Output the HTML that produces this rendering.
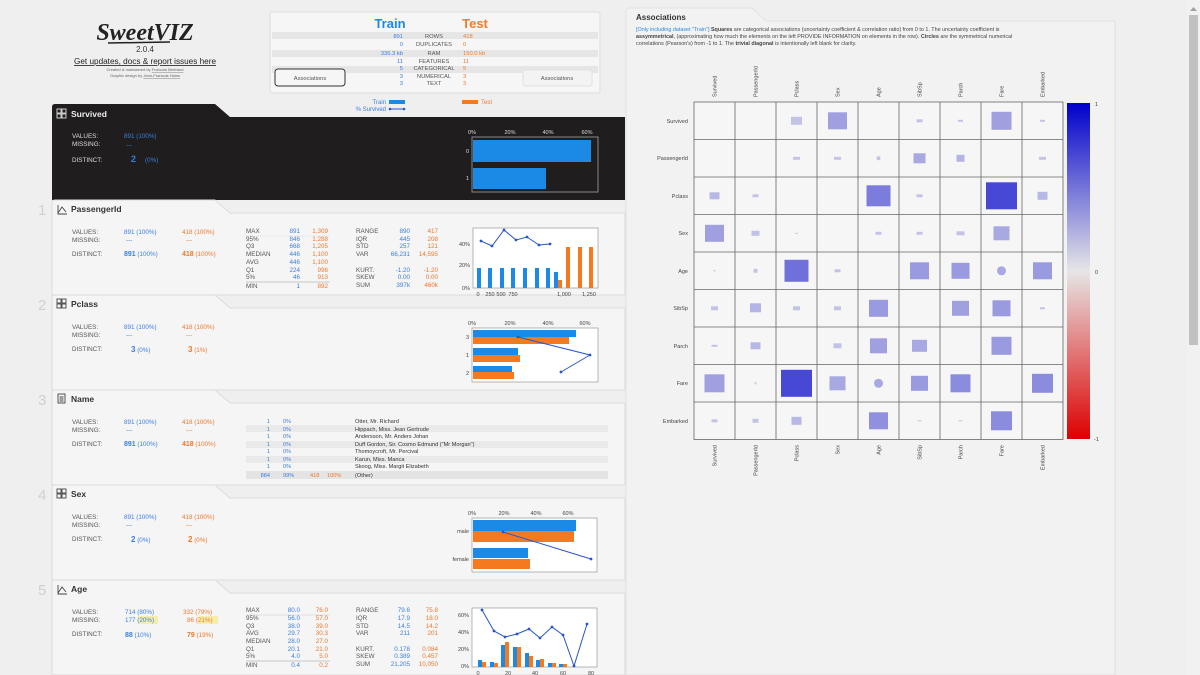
<!DOCTYPE html>
<html><head><meta charset="utf-8"><style>
html,body{margin:0;padding:0;background:#efefef;}
svg{display:block;font-family:"Liberation Sans",sans-serif;}
.s{font-size:6.3px;fill:#555;}
.b{font-size:6.3px;fill:#3a7fe0;}
.o{font-size:6.3px;fill:#f0782c;}
.h{font-size:8.5px;font-weight:bold;fill:#333;}
.n{font-size:15px;fill:#d0d0d0;}
</style></head><body>
<svg width="1200" height="675" viewBox="0 0 1200 675">
<rect width="1200" height="675" fill="#efefef"/>
<!-- header -->
<text x="145" y="40" font-size="24" font-style="italic" font-weight="bold" fill="#222" text-anchor="middle" font-family="Liberation Serif,serif">SweetVIZ</text>
<line x1="108" y1="43" x2="170" y2="42" stroke="#222" stroke-width="1.5"/>
<text x="145" y="52" font-size="8" fill="#333" text-anchor="middle">2.0.4</text>
<text x="145" y="64" font-size="8.2" fill="#222" text-anchor="middle" text-decoration="underline">Get updates, docs &amp; report issues here</text>
<text x="145" y="71" font-size="4" fill="#666" text-anchor="middle">Created &amp; maintained by <tspan text-decoration="underline">Francois Bertrand</tspan></text>
<text x="145" y="77" font-size="4" fill="#666" text-anchor="middle">Graphic design by <tspan text-decoration="underline">Jean-Francois Hains</tspan></text>
<!-- summary -->
<rect x="270" y="12" width="330" height="81" fill="#f6f6f6" stroke="#dcdcdc" rx="2"/>
<text x="390" y="28" font-size="13" font-weight="bold" fill="#1c87e6" text-anchor="middle">Train</text>
<text x="475" y="28" font-size="13" font-weight="bold" fill="#f27b25" text-anchor="middle">Test</text>
<rect x="272" y="32" width="326" height="7" fill="#e6e6e6"/>
<rect x="272" y="50" width="326" height="7" fill="#e6e6e6"/>
<rect x="272" y="66" width="326" height="7" fill="#e6e6e6"/>
<g font-size="5.8">
<g text-anchor="end" fill="#3a7fe0"><text x="403" y="38">891</text><text x="403" y="46">0</text><text x="403" y="55">336.3 kb</text><text x="403" y="63">11</text><text x="403" y="70">5</text><text x="403" y="78">3</text><text x="403" y="85">3</text></g>
<g text-anchor="middle" fill="#555"><text x="434" y="38">ROWS</text><text x="434" y="46">DUPLICATES</text><text x="434" y="55">RAM</text><text x="434" y="63">FEATURES</text><text x="434" y="70">CATEGORICAL</text><text x="434" y="78">NUMERICAL</text><text x="434" y="85">TEXT</text></g>
<g fill="#f0782c"><text x="463" y="38">418</text><text x="463" y="46">0</text><text x="463" y="55">150.0 kb</text><text x="463" y="63">11</text><text x="463" y="70">5</text><text x="463" y="78">3</text><text x="463" y="85">3</text></g>
</g>
<rect x="275" y="69" width="70" height="17" rx="3" fill="#f6f6f6" stroke="#333" stroke-width="1"/>
<text x="310" y="80" font-size="5.8" fill="#555" text-anchor="middle">Associations</text>
<rect x="523" y="70" width="69" height="16" rx="2" fill="#f3f3f3" stroke="#e0e0e0"/>
<text x="557" y="80" font-size="5.8" fill="#555" text-anchor="middle">Associations</text>
<text x="386" y="104" font-size="6" fill="#3a7fe0" text-anchor="end">Train</text>
<rect x="389" y="100" width="16" height="4" fill="#1a8ae6"/>
<text x="386" y="111" font-size="6" fill="#3a7fe0" text-anchor="end">% Survived</text>
<line x1="389" y1="109" x2="405" y2="109" stroke="#2a55c8"/><circle cx="390" cy="109" r="1.3" fill="#2a55c8"/><circle cx="404" cy="109" r="1.3" fill="#2a55c8"/>
<rect x="462" y="100" width="16" height="4" fill="#f57a1f"/>
<text x="481" y="104" font-size="6" fill="#f0782c">Test</text>

<!-- Survived dark card -->
<path d="M52,107 Q52,104 55,104 L215,104 L230,117 L625,117 L625,200 L52,200 Z" fill="#1f1d1d"/>
<g fill="none" stroke="#ccc" stroke-width="1"><rect x="57" y="109" width="4" height="4"/><rect x="62" y="109" width="4" height="4"/><rect x="57" y="114" width="4" height="4"/><rect x="62" y="114" width="4" height="4"/></g>
<text x="71" y="117" font-size="8.5" font-weight="bold" fill="#eee">Survived</text>
<text x="72" y="138" class="s" style="fill:#ddd">VALUES:</text>
<text x="72" y="146" style="fill:#ddd" class="s">MISSING:</text>
<text x="72" y="162" style="fill:#ddd" class="s">DISTINCT:</text>
<text x="124" y="138" class="b">891 (100%)</text><text x="126" y="147" class="b">---</text>
<text x="131" y="162" font-size="9" font-weight="bold" fill="#3a7fe0">2</text><text x="145" y="162" class="b">(0%)</text>
<g font-size="5.5" fill="#ddd" text-anchor="middle"><text x="472" y="134">0%</text><text x="510" y="134">20%</text><text x="548" y="134">40%</text><text x="587" y="134">60%</text></g>
<rect x="472" y="137" width="126" height="55" fill="none" stroke="#888"/>
<rect x="473" y="140" width="118" height="22" fill="#1a8ae6"/>
<rect x="473" y="168" width="73" height="21" fill="#1a8ae6"/>
<text x="469" y="153" font-size="5.5" fill="#ddd" text-anchor="end">0</text>
<text x="469" y="180" font-size="5.5" fill="#ddd" text-anchor="end">1</text>

<!-- Light cards -->
<g fill="#f5f5f5" stroke="#dcdcdc">
<path d="M52,203 Q52,200 55,200 L215,200 L230,213 L625,213 L625,295 L52,295 Z"/>
<path d="M52,298 Q52,295 55,295 L215,295 L230,308 L625,308 L625,390 L52,390 Z"/>
<path d="M52,393 Q52,390 55,390 L215,390 L230,403 L625,403 L625,485 L52,485 Z"/>
<path d="M52,488 Q52,485 55,485 L215,485 L230,498 L625,498 L625,580 L52,580 Z"/>
<path d="M52,583 Q52,580 55,580 L215,580 L230,593 L625,593 L625,675 L52,675 Z"/>
</g>
<g><text x="38" y="215" class="n">1</text><text x="38" y="310" class="n">2</text><text x="38" y="405" class="n">3</text><text x="38" y="500" class="n">4</text><text x="38" y="595" class="n">5</text></g>
<g fill="none" stroke="#444" stroke-width="0.9">
<path d="M58,205 L58,214 L67,214 M58,213 L62,207 L66,212"/>
<rect x="57" y="299" width="4" height="4"/><rect x="62" y="299" width="4" height="4"/><rect x="57" y="304" width="4" height="4"/><rect x="62" y="304" width="4" height="4"/>
<rect x="58" y="394" width="7" height="9"/><path d="M59.5,397 h4 M59.5,399 h4 M59.5,401 h4"/>
<rect x="57" y="489" width="4" height="4"/><rect x="62" y="489" width="4" height="4"/><rect x="57" y="494" width="4" height="4"/><rect x="62" y="494" width="4" height="4"/>
<path d="M58,585 L58,594 L67,594 M58,593 L62,587 L66,592"/>
</g>
<text x="71" y="212" class="h">PassengerId</text>
<text x="71" y="307" class="h">Pclass</text>
<text x="71" y="402" class="h">Name</text>
<text x="71" y="497" class="h">Sex</text>
<text x="71" y="592" class="h">Age</text>

<g>
<text x="72" y="234" class="s">VALUES:</text><text x="72" y="242" class="s">MISSING:</text><text x="72" y="256" class="s">DISTINCT:</text>
<text x="124" y="234" class="b">891 (100%)</text><text x="126" y="242" class="b">---</text><text x="182" y="234" class="o">418 (100%)</text><text x="186" y="242" class="o">---</text>
<text x="124" y="256" class="b"><tspan font-weight="bold" font-size="7">891</tspan> (100%)</text><text x="182" y="256" class="o"><tspan font-weight="bold" font-size="7">418</tspan> (100%)</text>

<text x="72" y="329" class="s">VALUES:</text><text x="72" y="337" class="s">MISSING:</text><text x="72" y="351" class="s">DISTINCT:</text>
<text x="124" y="329" class="b">891 (100%)</text><text x="126" y="337" class="b">---</text><text x="182" y="329" class="o">418 (100%)</text><text x="186" y="337" class="o">---</text>
<text x="131" y="352" class="b"><tspan font-weight="bold" font-size="8">3</tspan>   (0%)</text><text x="188" y="352" class="o"><tspan font-weight="bold" font-size="8">3</tspan>   (1%)</text>

<text x="72" y="424" class="s">VALUES:</text><text x="72" y="432" class="s">MISSING:</text><text x="72" y="446" class="s">DISTINCT:</text>
<text x="124" y="424" class="b">891 (100%)</text><text x="126" y="432" class="b">---</text><text x="182" y="424" class="o">418 (100%)</text><text x="186" y="432" class="o">---</text>
<text x="124" y="446" class="b"><tspan font-weight="bold" font-size="7">891</tspan> (100%)</text><text x="182" y="446" class="o"><tspan font-weight="bold" font-size="7">418</tspan> (100%)</text>

<text x="72" y="519" class="s">VALUES:</text><text x="72" y="527" class="s">MISSING:</text><text x="72" y="541" class="s">DISTINCT:</text>
<text x="124" y="519" class="b">891 (100%)</text><text x="126" y="527" class="b">---</text><text x="182" y="519" class="o">418 (100%)</text><text x="186" y="527" class="o">---</text>
<text x="131" y="542" class="b"><tspan font-weight="bold" font-size="8">2</tspan>   (0%)</text><text x="188" y="542" class="o"><tspan font-weight="bold" font-size="8">2</tspan>   (0%)</text>

<text x="72" y="614" class="s">VALUES:</text><text x="72" y="622" class="s">MISSING:</text><text x="72" y="636" class="s">DISTINCT:</text>
<rect x="138" y="616" width="20" height="8" fill="#f5eeaa"/><rect x="198" y="616" width="20" height="8" fill="#f5eeaa"/>
<text x="125" y="614" class="b">714  (80%)</text><text x="125" y="622" class="b">177  (20%)</text><text x="183" y="614" class="o">332  (79%)</text><text x="187" y="622" class="o">86  (21%)</text>
<text x="125" y="637" class="b"><tspan font-weight="bold" font-size="7">88</tspan>  (10%)</text><text x="187" y="637" class="o"><tspan font-weight="bold" font-size="7">79</tspan>  (19%)</text>
</g>

<!-- PassengerId stats -->
<g>
<text x="246" y="233" class="s">MAX</text><text x="246" y="241" class="s">95%</text><text x="246" y="248" class="s">Q3</text><text x="246" y="256" class="s">MEDIAN</text><text x="246" y="264" class="s">AVG</text><text x="246" y="272" class="s">Q1</text><text x="246" y="279" class="s">5%</text><text x="246" y="288" class="s">MIN</text>
<line x1="246" y1="236" x2="330" y2="236" stroke="#ccc" stroke-width="0.5" stroke-dasharray="1,1"/><line x1="246" y1="282" x2="330" y2="282" stroke="#999" stroke-width="0.5"/>
<g text-anchor="end"><text x="300" y="233" class="b">891</text><text x="300" y="241" class="b">846</text><text x="300" y="248" class="b">668</text><text x="300" y="256" class="b">446</text><text x="300" y="264" class="b">446</text><text x="300" y="272" class="b">224</text><text x="300" y="279" class="b">46</text><text x="300" y="288" class="b">1</text>
<text x="328" y="233" class="o">1,309</text><text x="328" y="241" class="o">1,288</text><text x="328" y="248" class="o">1,205</text><text x="328" y="256" class="o">1,100</text><text x="328" y="264" class="o">1,100</text><text x="328" y="272" class="o">996</text><text x="328" y="279" class="o">913</text><text x="328" y="288" class="o">892</text></g>
<text x="356" y="233" class="s">RANGE</text><text x="356" y="241" class="s">IQR</text><text x="356" y="248" class="s">STD</text><text x="356" y="256" class="s">VAR</text><text x="356" y="272" class="s">KURT.</text><text x="356" y="279" class="s">SKEW</text><text x="356" y="287" class="s">SUM</text>
<g text-anchor="end"><text x="410" y="233" class="b">890</text><text x="410" y="241" class="b">445</text><text x="410" y="248" class="b">257</text><text x="410" y="256" class="b">66,231</text><text x="410" y="272" class="b">-1.20</text><text x="410" y="279" class="b">0.00</text><text x="410" y="287" class="b">397k</text>
<text x="438" y="233" class="o">417</text><text x="438" y="241" class="o">208</text><text x="438" y="248" class="o">121</text><text x="438" y="256" class="o">14,595</text><text x="438" y="272" class="o">-1.20</text><text x="438" y="279" class="o">0.00</text><text x="438" y="287" class="o">460k</text></g>
</g>
<rect x="473" y="228" width="125" height="60" fill="#fff" stroke="#999" stroke-width="0.7"/>
<g font-size="5.5" fill="#444" text-anchor="end"><text x="470" y="246">40%</text><text x="470" y="267">20%</text><text x="470" y="290">0%</text></g>
<g font-size="5.5" fill="#444" text-anchor="middle"><text x="478" y="296">0</text><text x="490" y="296">250</text><text x="501" y="296">500</text><text x="513" y="296">750</text><text x="564" y="296">1,000</text><text x="589" y="296">1,250</text></g>
<g fill="#1a8ae6"><rect x="477" y="268" width="4" height="20"/><rect x="488" y="268" width="4" height="20"/><rect x="500" y="268" width="4" height="20"/><rect x="511" y="268" width="4" height="20"/><rect x="523" y="268" width="4" height="20"/><rect x="535" y="268" width="4" height="20"/><rect x="546" y="268" width="4" height="20"/><rect x="554" y="272" width="4" height="16"/></g>
<g fill="#f57a1f"><rect x="558" y="280" width="4" height="8"/><rect x="566" y="247" width="4" height="41"/><rect x="578" y="247" width="4" height="41"/><rect x="589" y="247" width="4" height="41"/></g>
<polyline points="481,241 492,246 504,230 516,240 527,237 539,245 550,244" fill="none" stroke="#2a55c8" stroke-width="1"/>
<g fill="#2a55c8"><circle cx="481" cy="241" r="1.4"/><circle cx="492" cy="246" r="1.4"/><circle cx="504" cy="230" r="1.4"/><circle cx="516" cy="240" r="1.4"/><circle cx="527" cy="237" r="1.4"/><circle cx="539" cy="245" r="1.4"/><circle cx="550" cy="244" r="1.4"/></g>

<!-- Pclass chart -->
<g font-size="5.5" fill="#444" text-anchor="middle"><text x="472" y="325">0%</text><text x="510" y="325">20%</text><text x="548" y="325">40%</text><text x="585" y="325">60%</text></g>
<rect x="472" y="328" width="126" height="54" fill="#fff" stroke="#999" stroke-width="0.7"/>
<rect x="473" y="330" width="103" height="7" fill="#1a8ae6"/><rect x="473" y="337" width="96" height="7" fill="#f57a1f"/>
<rect x="473" y="348" width="45" height="7" fill="#1a8ae6"/><rect x="473" y="355" width="47" height="7" fill="#f57a1f"/>
<rect x="473" y="366" width="39" height="6" fill="#1a8ae6"/><rect x="473" y="372" width="41" height="7" fill="#f57a1f"/>
<g font-size="5.5" fill="#444" text-anchor="end"><text x="469" y="339">3</text><text x="469" y="357">1</text><text x="469" y="375">2</text></g>
<polyline points="518,337 590,355 561,372" fill="none" stroke="#2a55c8"/><g fill="#2a55c8"><circle cx="518" cy="337" r="1.4"/><circle cx="590" cy="355" r="1.4"/><circle cx="561" cy="372" r="1.4"/></g>

<!-- Name table -->
<rect x="246" y="425" width="362" height="7" fill="#e9e9e9"/><rect x="246" y="441" width="362" height="7" fill="#e9e9e9"/><rect x="246" y="456" width="362" height="7" fill="#e9e9e9"/><rect x="246" y="471" width="362" height="8" fill="#e4e4e4"/>
<g font-size="5.6">
<g fill="#3a7fe0" text-anchor="end"><text x="270" y="423">1</text><text x="270" y="431">1</text><text x="270" y="438">1</text><text x="270" y="446">1</text><text x="270" y="453">1</text><text x="270" y="461">1</text><text x="270" y="468">1</text><text x="270" y="477">884</text></g>
<g fill="#3a7fe0"><text x="283" y="423">0%</text><text x="283" y="431">0%</text><text x="283" y="438">0%</text><text x="283" y="446">0%</text><text x="283" y="453">0%</text><text x="283" y="461">0%</text><text x="283" y="468">0%</text><text x="283" y="477">99%</text></g>
<text x="310" y="477" fill="#f0782c">418</text><text x="327" y="477" fill="#f0782c">100%</text>
<g fill="#333"><text x="355" y="423">Otter, Mr. Richard</text><text x="355" y="431">Hippach, Miss. Jean Gertrude</text><text x="355" y="438">Andersson, Mr. Anders Johan</text><text x="355" y="446">Duff Gordon, Sir. Cosmo Edmund ("Mr Morgan")</text><text x="355" y="453">Thomoycroft, Mr. Percival</text><text x="355" y="461">Karun, Miss. Manca</text><text x="355" y="468">Skoog, Miss. Margit Elizabeth</text><text x="355" y="477">(Other)</text></g>
</g>

<!-- Sex chart -->
<g font-size="5.5" fill="#444" text-anchor="middle"><text x="472" y="515">0%</text><text x="504" y="515">20%</text><text x="536" y="515">40%</text><text x="568" y="515">60%</text></g>
<rect x="472" y="518" width="125" height="54" fill="#fff" stroke="#999" stroke-width="0.7"/>
<rect x="473" y="520" width="103" height="11" fill="#1a8ae6"/><rect x="473" y="531" width="101" height="11" fill="#f57a1f"/>
<rect x="473" y="548" width="55" height="10" fill="#1a8ae6"/><rect x="473" y="559" width="57" height="10" fill="#f57a1f"/>
<g font-size="5.5" fill="#444" text-anchor="end"><text x="469" y="533">male</text><text x="469" y="561">female</text></g>
<line x1="503" y1="532" x2="591" y2="559" stroke="#2a55c8"/><circle cx="503" cy="532" r="1.4" fill="#2a55c8"/><circle cx="591" cy="559" r="1.4" fill="#2a55c8"/>

<!-- Age stats -->
<g>
<text x="246" y="612" class="s">MAX</text><text x="246" y="620" class="s">95%</text><text x="246" y="628" class="s">Q3</text><text x="246" y="635" class="s">AVG</text><text x="246" y="643" class="s">MEDIAN</text><text x="246" y="651" class="s">Q1</text><text x="246" y="658" class="s">5%</text><text x="246" y="667" class="s">MIN</text>
<line x1="246" y1="615" x2="330" y2="615" stroke="#ccc" stroke-width="0.5"/><line x1="246" y1="661" x2="330" y2="661" stroke="#999" stroke-width="0.5"/>
<g text-anchor="end"><text x="300" y="612" class="b">80.0</text><text x="300" y="620" class="b">56.0</text><text x="300" y="628" class="b">38.0</text><text x="300" y="635" class="b">29.7</text><text x="300" y="643" class="b">28.0</text><text x="300" y="651" class="b">20.1</text><text x="300" y="658" class="b">4.0</text><text x="300" y="667" class="b">0.4</text>
<text x="328" y="612" class="o">76.0</text><text x="328" y="620" class="o">57.0</text><text x="328" y="628" class="o">39.0</text><text x="328" y="635" class="o">30.3</text><text x="328" y="643" class="o">27.0</text><text x="328" y="651" class="o">21.0</text><text x="328" y="658" class="o">5.0</text><text x="328" y="667" class="o">0.2</text></g>
<text x="356" y="612" class="s">RANGE</text><text x="356" y="620" class="s">IQR</text><text x="356" y="628" class="s">STD</text><text x="356" y="635" class="s">VAR</text><text x="356" y="651" class="s">KURT.</text><text x="356" y="658" class="s">SKEW</text><text x="356" y="666" class="s">SUM</text>
<g text-anchor="end"><text x="410" y="612" class="b">79.6</text><text x="410" y="620" class="b">17.9</text><text x="410" y="628" class="b">14.5</text><text x="410" y="635" class="b">211</text><text x="410" y="651" class="b">0.178</text><text x="410" y="658" class="b">0.389</text><text x="410" y="666" class="b">21,205</text>
<text x="438" y="612" class="o">75.8</text><text x="438" y="620" class="o">18.0</text><text x="438" y="628" class="o">14.2</text><text x="438" y="635" class="o">201</text><text x="438" y="651" class="o">0.084</text><text x="438" y="658" class="o">0.457</text><text x="438" y="666" class="o">10,050</text></g>
</g>
<rect x="472" y="608" width="125" height="59" fill="#fff" stroke="#999" stroke-width="0.7"/>
<g font-size="5.5" fill="#444" text-anchor="end"><text x="469" y="617">60%</text><text x="469" y="634">40%</text><text x="469" y="651">20%</text><text x="469" y="668">0%</text></g>
<g font-size="5.5" fill="#444" text-anchor="middle"><text x="478" y="675">0</text><text x="508" y="675">20</text><text x="535" y="675">40</text><text x="563" y="675">60</text><text x="591" y="675">80</text></g>
<g fill="#1a8ae6"><rect x="478" y="660" width="4" height="7"/><rect x="490" y="662" width="4" height="5"/><rect x="501" y="645" width="4" height="22"/><rect x="513" y="647" width="4" height="20"/><rect x="525" y="653" width="4" height="14"/><rect x="536" y="660" width="4" height="7"/><rect x="548" y="663" width="4" height="4"/><rect x="559" y="664" width="4" height="3"/></g>
<g fill="#f57a1f"><rect x="482" y="662" width="4" height="5"/><rect x="494" y="663" width="4" height="4"/><rect x="505" y="642" width="4" height="25"/><rect x="517" y="647" width="4" height="20"/><rect x="529" y="656" width="4" height="11"/><rect x="540" y="659" width="4" height="8"/><rect x="552" y="663" width="4" height="4"/><rect x="563" y="664" width="4" height="3"/></g>
<polyline points="482,610 494,631 505,637 517,634 529,629 540,638 552,627 563,635 574,666 587,624" fill="none" stroke="#2a55c8"/>
<g fill="#2a55c8"><circle cx="482" cy="610" r="1.4"/><circle cx="494" cy="631" r="1.4"/><circle cx="505" cy="637" r="1.4"/><circle cx="517" cy="634" r="1.4"/><circle cx="529" cy="629" r="1.4"/><circle cx="540" cy="638" r="1.4"/><circle cx="552" cy="627" r="1.4"/><circle cx="563" cy="635" r="1.4"/><circle cx="574" cy="666" r="1.4"/><circle cx="587" cy="624" r="1.4"/></g>

<!-- Associations panel -->
<path d="M626,11 Q626,8 629,8 L752,8 L766,21 L1115,21 L1115,675 L626,675 Z" fill="#f2f2f2" stroke="#e2e2e2"/>
<text x="636" y="20" font-size="8" font-weight="bold" fill="#333">Associations</text>
<g font-size="5.4" fill="#444">
<text x="636" y="31"><tspan fill="#2a8ae0">[Only including dataset "Train"]</tspan> <tspan font-weight="bold">Squares</tspan> are categorical associations (uncertainty coefficient &amp; correlation ratio) from 0 to 1. The uncertainty coefficient is</text>
<text x="636" y="38"><tspan font-weight="bold">assymmetrical</tspan>, (approximating how much the elements on the left PROVIDE INFORMATION on elements in the row). <tspan font-weight="bold">Circles</tspan> are the symmetrical numerical</text>
<text x="636" y="45">correlations (Pearson's) from -1 to 1. The <tspan font-weight="bold">trivial diagonal</tspan> is intentionally left blank for clarity.</text>
</g>
<rect x="694" y="102" width="369" height="337.5" fill="#f6f6f6" stroke="#666" stroke-width="0.8"/>
<g stroke="#666" stroke-width="0.8">
<line x1="735" y1="102" x2="735" y2="439.5"/><line x1="776" y1="102" x2="776" y2="439.5"/><line x1="817" y1="102" x2="817" y2="439.5"/><line x1="858" y1="102" x2="858" y2="439.5"/><line x1="899" y1="102" x2="899" y2="439.5"/><line x1="940" y1="102" x2="940" y2="439.5"/><line x1="981" y1="102" x2="981" y2="439.5"/><line x1="1022" y1="102" x2="1022" y2="439.5"/>
<line x1="694" y1="139.5" x2="1063" y2="139.5"/><line x1="694" y1="177" x2="1063" y2="177"/><line x1="694" y1="214.5" x2="1063" y2="214.5"/><line x1="694" y1="252" x2="1063" y2="252"/><line x1="694" y1="289.5" x2="1063" y2="289.5"/><line x1="694" y1="327" x2="1063" y2="327"/><line x1="694" y1="364.5" x2="1063" y2="364.5"/><line x1="694" y1="402" x2="1063" y2="402"/>
</g>
<g font-size="5.5" fill="#444" text-anchor="end">
<text x="688" y="123">Survived</text><text x="688" y="160">PassengerId</text><text x="688" y="198">Pclass</text><text x="688" y="235">Sex</text><text x="688" y="273">Age</text><text x="688" y="310">SibSp</text><text x="688" y="348">Parch</text><text x="688" y="385">Fare</text><text x="688" y="423">Embarked</text>
</g>
<g font-size="5.5" fill="#444" text-anchor="start">
<text transform="translate(716.5,97) rotate(-90)">Survived</text><text transform="translate(757.5,97) rotate(-90)">PassengerId</text><text transform="translate(798.5,97) rotate(-90)">Pclass</text><text transform="translate(839.5,97) rotate(-90)">Sex</text><text transform="translate(880.5,97) rotate(-90)">Age</text><text transform="translate(921.5,97) rotate(-90)">SibSp</text><text transform="translate(962.5,97) rotate(-90)">Parch</text><text transform="translate(1003.5,97) rotate(-90)">Fare</text><text transform="translate(1044.5,97) rotate(-90)">Embarked</text>
</g>
<g font-size="5.5" fill="#444" text-anchor="end">
<text transform="translate(716.5,445) rotate(-90)">Survived</text><text transform="translate(757.5,445) rotate(-90)">PassengerId</text><text transform="translate(798.5,445) rotate(-90)">Pclass</text><text transform="translate(839.5,445) rotate(-90)">Sex</text><text transform="translate(880.5,445) rotate(-90)">Age</text><text transform="translate(921.5,445) rotate(-90)">SibSp</text><text transform="translate(962.5,445) rotate(-90)">Parch</text><text transform="translate(1003.5,445) rotate(-90)">Fare</text><text transform="translate(1044.5,445) rotate(-90)">Embarked</text>
</g>
<g>
<rect x="791" y="116.8" width="11" height="8" fill="#c3c3e8"/><rect x="828" y="112.3" width="19" height="17" fill="#a0a0e0"/><rect x="916.5" y="119.3" width="6" height="3" fill="#c3c3e8"/><rect x="958" y="119.8" width="5" height="2" fill="#c3c3e8"/><rect x="991.5" y="111.8" width="20" height="18" fill="#a0a0e0"/><rect x="1040" y="119.8" width="5" height="2" fill="#c3c3e8"/>
<rect x="793" y="156.8" width="7" height="3" fill="#c3c3e8"/><rect x="834" y="156.8" width="7" height="3" fill="#c3c3e8"/><circle cx="878.5" cy="158.3" r="2" fill="#c3c3e8"/><rect x="913.5" y="153.3" width="12" height="10" fill="#a8a8e2"/><rect x="956.5" y="154.8" width="8" height="7" fill="#b4b4e6"/><rect x="1039" y="156.8" width="7" height="3" fill="#c3c3e8"/>
<rect x="709.5" y="192.3" width="10" height="7" fill="#b8b8e6"/><rect x="752.5" y="194.3" width="6" height="3" fill="#c3c3e8"/><rect x="866.5" y="185.3" width="24" height="21" fill="#7c7cdc"/><rect x="916.5" y="194.3" width="6" height="3" fill="#c3c3e8"/><rect x="986" y="182.3" width="31" height="27" fill="#4848d6"/><rect x="1037.5" y="191.8" width="10" height="8" fill="#b8b8e6"/>
<rect x="705" y="224.8" width="19" height="17" fill="#a0a0e0"/><rect x="751.5" y="230.8" width="8" height="5" fill="#c0c0e8"/><rect x="795" y="232.8" width="3" height="1" fill="#ccc"/><rect x="875.5" y="231.8" width="6" height="3" fill="#c3c3e8"/><rect x="916.5" y="231.8" width="6" height="3" fill="#c3c3e8"/><rect x="956.5" y="231.3" width="8" height="4" fill="#c3c3e8"/><rect x="993.5" y="226.3" width="16" height="14" fill="#a8a8e2"/>
<rect x="713" y="270.3" width="3" height="1" fill="#ccc"/><rect x="753.5" y="268.8" width="4" height="4" fill="#c3c3e8"/><rect x="784.5" y="259.8" width="24" height="22" fill="#7070da"/><rect x="834.5" y="269.3" width="6" height="3" fill="#c3c3e8"/><rect x="910" y="262.3" width="19" height="17" fill="#9a9ae0"/><rect x="951.5" y="262.8" width="18" height="16" fill="#9a9ae0"/><circle cx="1001.5" cy="270.8" r="4.5" fill="#a8a8e2"/><rect x="1033" y="262.3" width="19" height="17" fill="#9a9ae0"/>
<rect x="711" y="306.3" width="7" height="4" fill="#c3c3e8"/><rect x="750" y="303.3" width="11" height="9" fill="#b4b4e6"/><rect x="793" y="306.3" width="7" height="4" fill="#c3c3e8"/><rect x="834" y="306.3" width="7" height="4" fill="#c3c3e8"/><rect x="869" y="299.8" width="19" height="17" fill="#9a9ae0"/><rect x="952" y="300.8" width="17" height="15" fill="#a0a0e0"/><rect x="992.5" y="300.3" width="18" height="16" fill="#9a9ae0"/><rect x="1040" y="307.3" width="5" height="2" fill="#c3c3e8"/>
<rect x="711.5" y="344.8" width="6" height="2" fill="#c3c3e8"/><rect x="750.5" y="342.3" width="10" height="7" fill="#b8b8e6"/><rect x="833.5" y="343.3" width="8" height="5" fill="#c3c3e8"/><rect x="870" y="338.3" width="17" height="15" fill="#a0a0e0"/><rect x="912" y="339.8" width="15" height="12" fill="#a8a8e2"/><rect x="991.5" y="336.8" width="20" height="18" fill="#9a9ae0"/>
<rect x="704.5" y="374.3" width="20" height="18" fill="#a0a0e0"/><rect x="754.5" y="382.3" width="2" height="2" fill="#ccc"/><rect x="781" y="369.8" width="31" height="27" fill="#4848d6"/><rect x="829.5" y="376.3" width="16" height="14" fill="#a8a8e2"/><circle cx="878.5" cy="383.3" r="4.5" fill="#a8a8e2"/><rect x="911" y="375.8" width="17" height="15" fill="#9a9ae0"/><rect x="950.5" y="374.3" width="20" height="18" fill="#8c8cde"/><rect x="1032" y="373.8" width="21" height="19" fill="#8c8cde"/>
<rect x="711.5" y="419.3" width="6" height="3" fill="#c3c3e8"/><rect x="752.5" y="418.8" width="6" height="4" fill="#c3c3e8"/><rect x="791.5" y="416.8" width="10" height="8" fill="#b8b8e6"/><rect x="869" y="412.3" width="19" height="17" fill="#9090de"/><rect x="917.5" y="420.3" width="4" height="1" fill="#ccc"/><rect x="958.5" y="420.3" width="4" height="1" fill="#ccc"/><rect x="991" y="411.3" width="21" height="19" fill="#8c8cde"/>
</g>
<defs><linearGradient id="cb" x1="0" y1="0" x2="0" y2="1"><stop offset="0" stop-color="#0000cc"/><stop offset="0.5" stop-color="#e6e6e6"/><stop offset="1" stop-color="#dd0000"/></linearGradient></defs>
<rect x="1067" y="103" width="23" height="336" fill="url(#cb)"/>
<g font-size="5.5" fill="#444"><text x="1095" y="106">1</text><text x="1095" y="274">0</text><text x="1094" y="441">-1</text></g>
<rect x="1187" y="0" width="13" height="675" fill="#f1f1f1"/>
<rect x="1189" y="15" width="9" height="330" fill="#c1c1c1"/>
<path d="M1190,11 L1193.5,7 L1197,11 Z" fill="#a0a0a0"/>
</svg>
</body></html>
